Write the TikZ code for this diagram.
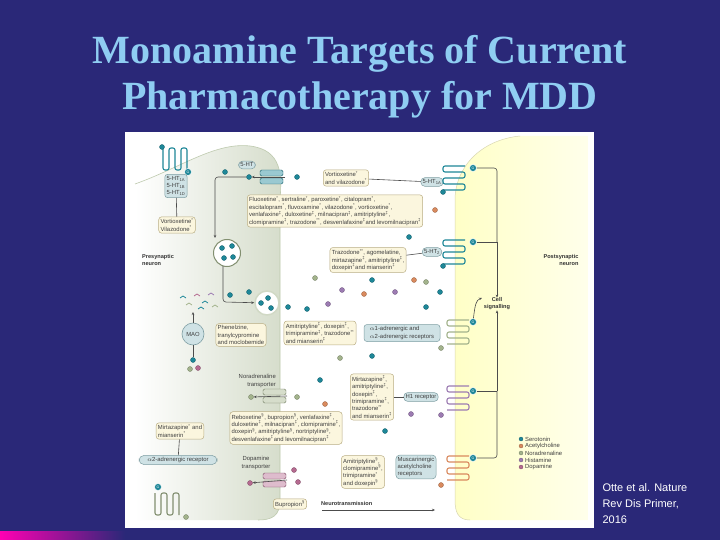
\documentclass[tikz,border=0pt]{standalone}
\usepackage{fontspec}
\setmainfont{Liberation Serif}
\newfontfamily\figf{Liberation Sans}
\usetikzlibrary{arrows.meta}
\definecolor{slide}{HTML}{2A2878}
\definecolor{ttl}{HTML}{8FCDF2}
\definecolor{ser}{HTML}{1E8798}
\definecolor{ach}{HTML}{D98A5E}
\definecolor{nor}{HTML}{A3B38C}
\definecolor{his}{HTML}{9C7BB2}
\definecolor{dop}{HTML}{B56A90}
\definecolor{cream}{HTML}{FBF6DE}
\definecolor{creamb}{HTML}{B9AD83}
\definecolor{rec}{HTML}{CFE2E5}
\definecolor{recb}{HTML}{7E9EA3}
\newcommand\dg{\textsuperscript{‡}}
\newcommand\sg{\textsuperscript{§}}
\newcommand\st{\textsuperscript{*}}
\newcommand\dst{\textsuperscript{**}}
\tikzset{
 ff/.style={font=\figf\fontsize{5.9}{7.4}\selectfont},
 box/.style={ff,draw=creamb,fill=cream,rounded corners=3pt,line width=0.5pt,align=left,inner sep=1.8pt,text=black!75},
 rbox/.style={ff,draw=recb,fill=rec,rounded corners=3pt,line width=0.5pt,align=left,inner sep=1.8pt,text=black!75},
 lbl/.style={ff,text=black!75,align=center,inner sep=0pt},
 blbl/.style={font=\figf\bfseries\fontsize{5.6}{7}\selectfont,text=black!80,inner sep=0pt},
 dot/.style={circle,fill=#1,draw=#1!70!black,line width=0.3pt,minimum size=5pt,inner sep=0pt},
 gp/.style={circle,fill=ser,draw=white,line width=0.5pt,minimum size=7pt,inner sep=0pt,font=\figf\fontsize{3.5}{3}\selectfont,text=white},
 conn/.style={draw=black!70,line width=0.6pt},
 arr/.style={conn,-{Stealth[length=3pt,width=2.5pt]}},
}
\newcommand\hserp[3]{%
 \draw[#3,line width=1.1pt,rounded corners=2pt] (#1+22,#2) -- (#1,#2) -- (#1,#2+6) -- (#1+22,#2+6) -- (#1+22,#2+12) -- (#1,#2+12) -- (#1,#2+18) -- (#1+22,#2+18) -- (#1+22,#2+24) -- (#1,#2+24);}
\newcommand\vserp[3]{%
 \draw[#3,line width=1.1pt,rounded corners=2pt] (#1,#2) -- (#1,#2+22) -- (#1+6,#2+22) -- (#1+6,#2) -- (#1+12,#2) -- (#1+12,#2+22) -- (#1+18,#2+22) -- (#1+18,#2) -- (#1+24,#2) -- (#1+24,#2+22);}
\newcommand\transp[3]{%
 \draw[#3!70!black,fill=#3!45,line width=0.4pt,rounded corners=1.5pt] (#1,#2) rectangle (#1+23,#2+6);
 \draw[#3!70!black,fill=#3!45,line width=0.4pt,rounded corners=1.5pt] (#1,#2+8) rectangle (#1+23,#2+14);}
\begin{document}
\begin{tikzpicture}[x=1pt,y=-1pt]
\fill[slide] (0,0) rectangle (720,540);
\useasboundingbox (0,0) rectangle (720,540);
\shade[left color=magenta!70!red,right color=slide] (0,531) rectangle (125,540);
\node[text=ttl,font=\bfseries\fontsize{40}{44}\selectfont] (t1) at (360,54) {Monoamine Targets of Current};
\node[text=ttl,font=\bfseries\fontsize{40}{44}\selectfont] (t2) at (360,100) {Pharmacotherapy for MDD};
% panel
\fill[white] (125,132) rectangle (594,528);
\shade[left color=white,right color=nor!45] (135,184) .. controls (180,168) and (215,142) .. (250,146) .. controls (282,150) and (282,175) .. (280,200) -- (280,500) .. controls (280,516) and (272,520) .. (258,520) -- (135,520) -- cycle;
\draw[nor!70,line width=0.6pt] (135,184) .. controls (180,168) and (215,142) .. (250,146) .. controls (282,150) and (282,175) .. (280,200) -- (280,500) .. controls (280,516) and (272,520) .. (258,520);
\shade[left color=yellow!22!white,right color=yellow!8!white] (470,520) .. controls (458,520) and (455,512) .. (455,500) -- (455,200) .. controls (455,168) and (480,140) .. (520,136) -- (588,136) -- (588,520) -- cycle;
\draw[yellow!50!black!35,line width=0.5pt] (470,520) .. controls (458,520) and (455,512) .. (455,500) -- (455,200) .. controls (455,168) and (480,140) .. (520,136);
\node[blbl,align=left] (pre) at (158,260) {Presynaptic\\neuron};
\node[blbl,align=right] (post) at (561,260) {Postsynaptic\\neuron};
% top-left autoreceptor
\vserp{163}{148}{ser}
\node[dot=ser] (d0) at (162,147) {};
\node[gp] (g0) at (188,172) {G};
\node[rbox] (r1) at (176,186) {5-HT\textsubscript{1A}\\5-HT\textsubscript{1B}\\5-HT\textsubscript{1D}};
\node[box] (b1) at (177,225) {Vortioxetine\st\\Vilazodone\st};
\draw[conn] (r1) -- (b1);
% SERT
\node[rbox,rounded corners=4pt] (sert) at (247,165) {5-HT};
\transp{260}{170}{ser}
\node[dot=ser] (d1) at (225,172) {};
\node[dot=ser] (d2) at (249,177) {};
\node[dot=ser] (d3) at (297,177) {};
\draw[arr] (285,177) -- (d2);
\coordinate (c1) at (215,177);
\node[circle,draw=nor!80!black,fill=white,line width=1pt,minimum size=27pt] (ves1) at (227,253) {};
\draw[arr,rounded corners=3pt] (d2) -- (c1) -- (215,238);
\node[dot=ser] at (222,248) {};\node[dot=ser] at (232,246) {};\node[dot=ser] at (224,258) {};\node[dot=ser] at (233,257) {};
\node[circle,draw=nor!50,fill=white,line width=1.5pt,minimum size=24pt] (ves2) at (267,303) {};
\draw[arr,rounded corners=3pt] (223,266) -- (223,302) -- (ves2);
\node[dot=ser] at (230,295) {};\node[dot=ser] at (249,292) {};
\node[dot=ser] at (261,303) {};\node[dot=ser] at (268,298) {};\node[dot=ser] at (271,308) {};
% 5-HT1A postsynaptic
\node[box] (b2) at (346,178) {Vortioxetine\st\\and vilazodone\st};
\node[rbox,rounded corners=4pt] (r2) at (432,182) {5-HT\textsubscript{1A}};
\draw[conn] (b2) -- (r2);
\hserp{443}{166}{ser}
\node[gp] (g1) at (473,168) {G};
\node[dot=ser] at (443,192) {};
\node[box] (b3) at (335,211) {Fluoxetine\st, sertraline\st, paroxetine\st, citalopram\st,\\escitalopram\st, fluvoxamine\st, vilazodone\st, vortioxetine\st,\\venlafaxine\dg, duloxetine\dg, milnacipran\dg, amitriptyline\dg,\\clomipramine\dg, trazodone\dst, desvenlafaxine\dg and levomilnacipran\dg};
\node[dot=ach] at (435,210) {};
\node[dot=ser] at (409,237) {};
% 5-HT2
\node[box] (b4) at (368,260) {Trazodone\dst, agomelatine,\\mirtazapine\dg, amitriptyline\dg,\\doxepin\dg and mianserin\dg};
\node[rbox,rounded corners=4pt] (r3) at (432,252) {5-HT\textsubscript{2}};
\draw[conn] (b4) -- (r3);
\hserp{443}{240}{ser}
\node[gp] (g2) at (473,242) {G};
\node[dot=ser] at (443,266) {};
% cleft dots
\node[dot=nor] at (315,278) {};\node[dot=his] at (342,290) {};\node[dot=ser] at (372,280) {};
\node[dot=ach] at (364,294) {};\node[dot=ach] at (414,280) {};\node[dot=nor] at (426,282) {};
\node[dot=his] at (395,292) {};\node[dot=ser] at (440,292) {};\node[dot=ser] at (426,307) {};
\node[dot=ser] at (288,307) {};\node[dot=ser] at (307,309) {};\node[dot=his] at (328,304) {};
\node[dot=nor] at (340,358) {};\node[dot=ser] at (372,356) {};\node[dot=ser] at (320,380) {};
% MAO
\node[circle,draw=recb,fill=rec,line width=0.6pt,minimum size=22pt,lbl] (mao) at (193,334) {MAO};
\coordinate (sq) at (193,312);
\draw[arr] (mao) -- (sq);
\foreach \a/\b/\c in {180/298/ser,186/305/nor,194/296/dop,202/303/ser,208/295/his,198/309/ser,212/307/nor}{
 \draw[\c,line width=0.7pt] (\a,\b) -- ++(3,-2) -- ++(3,2);}
\node[dot=ser] (m1) at (193,360) {};
\draw[conn] (mao) -- (m1);
\node[dot=nor] at (190,369) {};\node[dot=dop] at (198,368) {};
\node[box] (b5) at (241,335) {Phenelzine,\\tranylcypromine\\and moclobemide};
% alpha receptors
\node[box] (b6) at (320,333) {Amitriptyline\dg, doxepin\dg,\\trimipramine\dg, trazodone\dst\\and mianserin\dg};
\node[rbox,minimum width=76pt,minimum height=17pt] (r4) at (402,333) {$\alpha$1-adrenergic and\\$\alpha$2-adrenergic receptors};
\hserp{447}{320}{nor}
\node[gp] (g3) at (473,322) {G};
\node[dot=nor] at (441,348) {};
\node[blbl,align=center] (cs) at (497,304) {Cell\\signalling};
\draw[arr] (g3) .. controls (475,305) and (476,300) .. (482,298);
% NET
\node[lbl,align=right,anchor=east] (nett) at (276,381) {Noradrenaline\\transporter};
\transp{263}{389}{nor}
\node[dot=nor] (n1) at (251,397) {};
\node[dot=nor] at (297,397) {};
\draw[arr] (287,396) -- (n1);
\node[dot=ach] at (325,404) {};
% H1
\node[box] (b7) at (372,397) {Mirtazapine\dg,\\amitriptyline\dg,\\doxepin\dg,\\trimipramine\dg,\\trazodone\dst\\and mianserin\dg};
\node[rbox,rounded corners=4pt] (r5) at (421,397) {H1 receptor};
\draw[conn] (b7) -- (r5);
\hserp{447}{386}{his}
\node[gp] (g4) at (473,391) {G};
\node[dot=his] at (441,415) {};\node[dot=his] at (411,414) {};
\node[dot=ser] at (385,431) {};
\node[box] (b8) at (286,428) {Reboxetine\sg, bupropion\sg, venlafaxine\dg,\\duloxetine\dg, milnacipran\dg, clomipramine\dg,\\doxepin\sg, amitriptyline\sg, nortriptyline\sg,\\desvenlafaxine\dg and levomilnacipran\dg};
% alpha2 presynaptic
\node[box] (b9) at (180,431) {Mirtazapine\st\ and\\mianserin\st};
\node[rbox,rounded corners=5pt,minimum width=78pt] (r6) at (178,460) {$\alpha$2-adrenergic receptor};
\draw[conn] (b9) -- (r6);
% DAT
\node[lbl] (datt) at (256,463) {Dopamine\\transporter};
\transp{263}{473}{dop}
\node[dot=dop] at (294,470) {};
\node[dot=dop] (p1) at (250,483) {};
\node[dot=dop] at (298,482) {};
\draw[arr] (287,480) -- (p1);
\node[box] (b10) at (290,504) {Bupropion\sg};
\node[blbl,anchor=west] (nt) at (321,503) {Neurotransmission};
\coordinate (nte) at (435,510);
\draw[arr,line width=0.4pt] (322,510) -- (nte);
% muscarinic
\node[box] (b11) at (363,472) {Amitriptyline\sg,\\clomipramine\sg,\\trimipramine\st\\and doxepin\sg};
\node[rbox,rounded corners=4pt] (r7) at (416,467) {Muscarinergic\\acetylcholine\\receptors};
\hserp{447}{456}{ach}
\node[gp] (g5) at (473,458) {G};
\node[dot=ach] at (441,485) {};
% bottom-left G receptor
\vserp{155}{493}{nor!80!black}
\node[gp] (g6) at (158,487) {G};
\node[dot=nor] at (186,517) {};
% signalling bracket
\draw[conn,rounded corners=3pt] (g1) -- (497,168) -- (497,242);
\draw[arr] (g2) -- (497,242) -- (cs.north);
\draw[conn,rounded corners=3pt] (g5) -- (497,458) -- (497,391);
\draw[conn] (g4) -- (497,391);
\draw[arr] (497,391) -- (cs.south);
% legend
\foreach \c/\t [count=\i] in {ser/Serotonin,ach/Acetylcholine,nor/Noradrenaline,his/Histamine,dop/Dopamine}{
 \node[dot=\c,minimum size=4pt] (lg\i) at (521,432+7*\i) {};
 \node[lbl,anchor=west] at (525,432+7*\i) {\t};}
% citation
\node[text=white,font=\figf\fontsize{11}{16}\selectfont,align=left,anchor=north west] (cit) at (599,480) {Otte et al. Nature\\Rev Dis Primer,\\2016};
\end{tikzpicture}
\end{document}
